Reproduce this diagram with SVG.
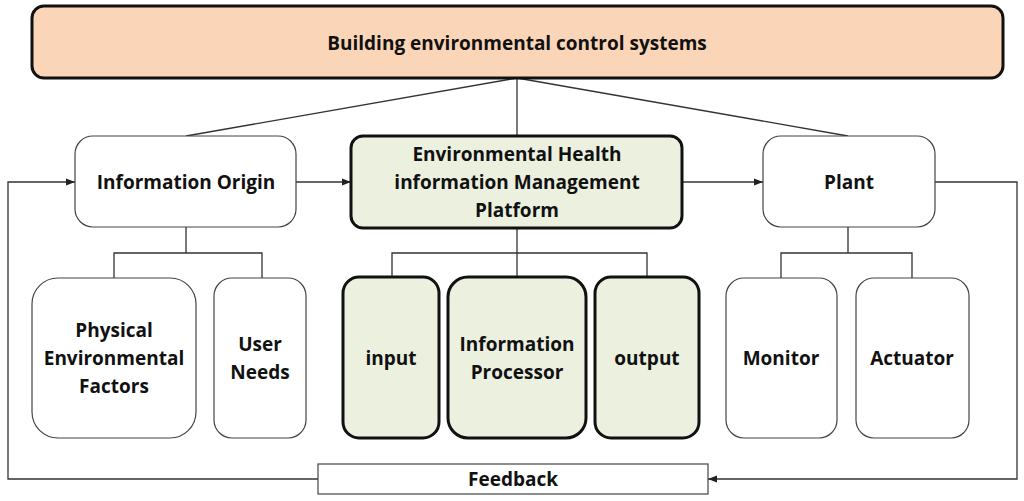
<svg xmlns="http://www.w3.org/2000/svg" width="1024" height="501" viewBox="0 0 1024 501">
<style>
text{font-family:"Open Sans","Liberation Sans",sans-serif;font-weight:bold;font-size:19px;fill:#111;text-anchor:middle}
.w{fill:#fff;stroke:#444;stroke-width:1.2}
.g{fill:#ebf0df;stroke:#111;stroke-width:3}
.c path{fill:none;stroke:#333;stroke-width:1.3}
</style>
<defs><marker id="a" viewBox="0 0 10 10" refX="10" refY="5" markerWidth="7" markerHeight="7" orient="auto"><path d="M0,1L10,5L0,9z" fill="#222"/></marker></defs>
<rect width="1024" height="501" fill="#fff"/>
<g class="c">
<path d="M517,78L186,136M517,78V136M517,78L848,136"/>
<path d="M186,227V253M114,278V253H262V278"/>
<path d="M517,228V276M392,276V253H647V276"/>
<path d="M848,227V253M781,278V253H912V278"/>
<path d="M296,182H351" marker-end="url(#a)"/>
<path d="M682,182H763" marker-end="url(#a)"/>
<path d="M935,182H1017V479H708" marker-end="url(#a)"/>
<path d="M318,479H8V182H75" marker-end="url(#a)"/>
</g>
<g id="top"><rect x="32" y="6" width="971" height="72" rx="12" fill="#fbd5b7" stroke="#111" stroke-width="3"/><text x="517" y="50">Building environmental control systems</text></g>
<g id="origin"><rect class="w" x="75" y="136" width="221" height="91" rx="18"/><text x="186" y="189">Information Origin</text></g>
<g id="platform"><rect class="g" x="351" y="136" width="331" height="92" rx="12"/><text x="517" y="161">Environmental Health</text><text x="517" y="189">information Management</text><text x="517" y="217">Platform</text></g>
<g id="plant"><rect class="w" x="763" y="136" width="172" height="91" rx="18"/><text x="849" y="189">Plant</text></g>
<g id="physical"><rect class="w" x="32" y="278" width="164" height="160" rx="26"/><text x="114" y="337">Physical</text><text x="114" y="365">Environmental</text><text x="114" y="393">Factors</text></g>
<g id="user"><rect class="w" x="214" y="278" width="92" height="160" rx="18"/><text x="260" y="351">User</text><text x="260" y="379">Needs</text></g>
<g id="input"><rect class="g" x="343" y="277" width="96" height="161" rx="16"/><text x="391" y="365">input</text></g>
<g id="processor"><rect class="g" x="448" y="277" width="138" height="161" rx="20"/><text x="517" y="351">Information</text><text x="517" y="379">Processor</text></g>
<g id="output"><rect class="g" x="595" y="277" width="104" height="161" rx="16"/><text x="647" y="365">output</text></g>
<g id="monitor"><rect class="w" x="726" y="278" width="111" height="160" rx="18"/><text x="781" y="365">Monitor</text></g>
<g id="actuator"><rect class="w" x="856" y="278" width="113" height="160" rx="18"/><text x="912" y="365">Actuator</text></g>
<g id="feedback"><rect x="318" y="464" width="390" height="30" fill="#fff" stroke="#444" stroke-width="1.2"/><text x="513" y="486">Feedback</text></g>
</svg>
